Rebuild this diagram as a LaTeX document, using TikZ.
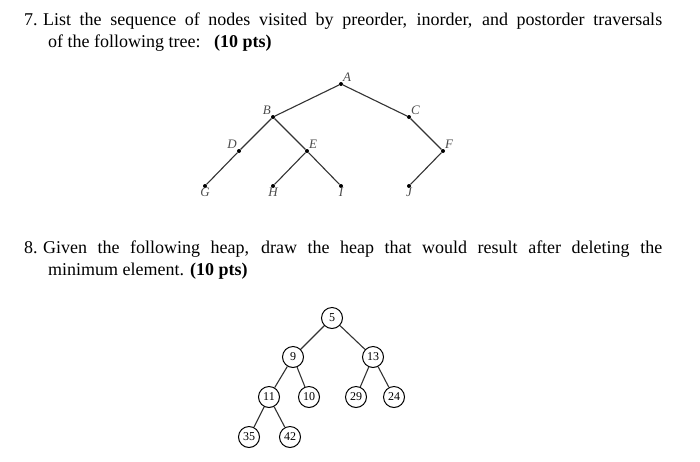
\documentclass[tikz,border=0pt]{standalone}
\usepackage{fontspec}
\setmainfont{Liberation Serif}
\begin{document}
\begin{tikzpicture}[x=1pt,y=-1pt,
  dot/.style={circle,fill=black,inner sep=0pt,minimum size=4pt},
  lab/.style={font=\itshape\fontsize{13}{15}\selectfont,text=black!70,inner sep=2pt},
  hp/.style={circle,draw,line width=1pt,minimum size=21pt,inner sep=0pt,font=\fontsize{12}{14}\selectfont},
  edge/.style={line width=1.1pt,draw=black!80},
  txt/.style={anchor=base west,inner sep=0pt,font=\fontsize{18}{22}\selectfont}]
\useasboundingbox (0,0) rectangle (700,461);
\node[txt] (l1) at (24,25) {\makebox[638pt][s]{7.\hspace{0.3em}List the sequence of nodes visited by preorder, inorder, and postorder traversals}};
\node[txt] (l2) at (48,47) {of the following tree:\ \ \ \textbf{(10 pts)}};
\node[txt] (l3) at (24,253) {\makebox[638pt][s]{8.\hspace{0.3em}Given the following heap, draw the heap that would result after deleting the}};
\node[txt] (l4) at (48,275) {minimum element. \textbf{(10 pts)}};
% tree
\node[dot] (A) at (341,84) {}; \node[lab,above right] at (A) {A};
\node[dot] (B) at (273,117) {}; \node[lab,above left] at (B) {B};
\node[dot] (C) at (409,117) {}; \node[lab,above right] at (C) {C};
\node[dot] (D) at (239,151) {}; \node[lab,above left] at (D) {D};
\node[dot] (E) at (307,151) {}; \node[lab,above right] at (E) {E};
\node[dot] (F) at (443,151) {}; \node[lab,above right] at (F) {F};
\node[dot] (G) at (205,186) {}; \node[lab,below] at (G) {G};
\node[dot] (H) at (273,186) {}; \node[lab,below] at (H) {H};
\node[dot] (I) at (341,186) {}; \node[lab,below] at (I) {I};
\node[dot] (J) at (409,186) {}; \node[lab,below] at (J) {J};
\draw[edge] (B)--(A)--(C)--(F)--(J);
\draw[edge] (G)--(D)--(B)--(E)--(H);
\draw[edge] (E)--(I);
% heap
\node[hp] (h5) at (332,318) {5};
\node[hp] (h9) at (293,357) {9};
\node[hp] (h13) at (373,357) {13};
\node[hp] (h11) at (269,397) {11};
\node[hp] (h10) at (309,397) {10};
\node[hp] (h29) at (356,397) {29};
\node[hp] (h24) at (394,397) {24};
\node[hp] (h35) at (249,437) {35};
\node[hp] (h42) at (290,437) {42};
\draw[edge] (h5)--(h9) (h5)--(h13) (h9)--(h11) (h9)--(h10) (h13)--(h29) (h13)--(h24) (h11)--(h35) (h11)--(h42);
\end{tikzpicture}
\end{document}
